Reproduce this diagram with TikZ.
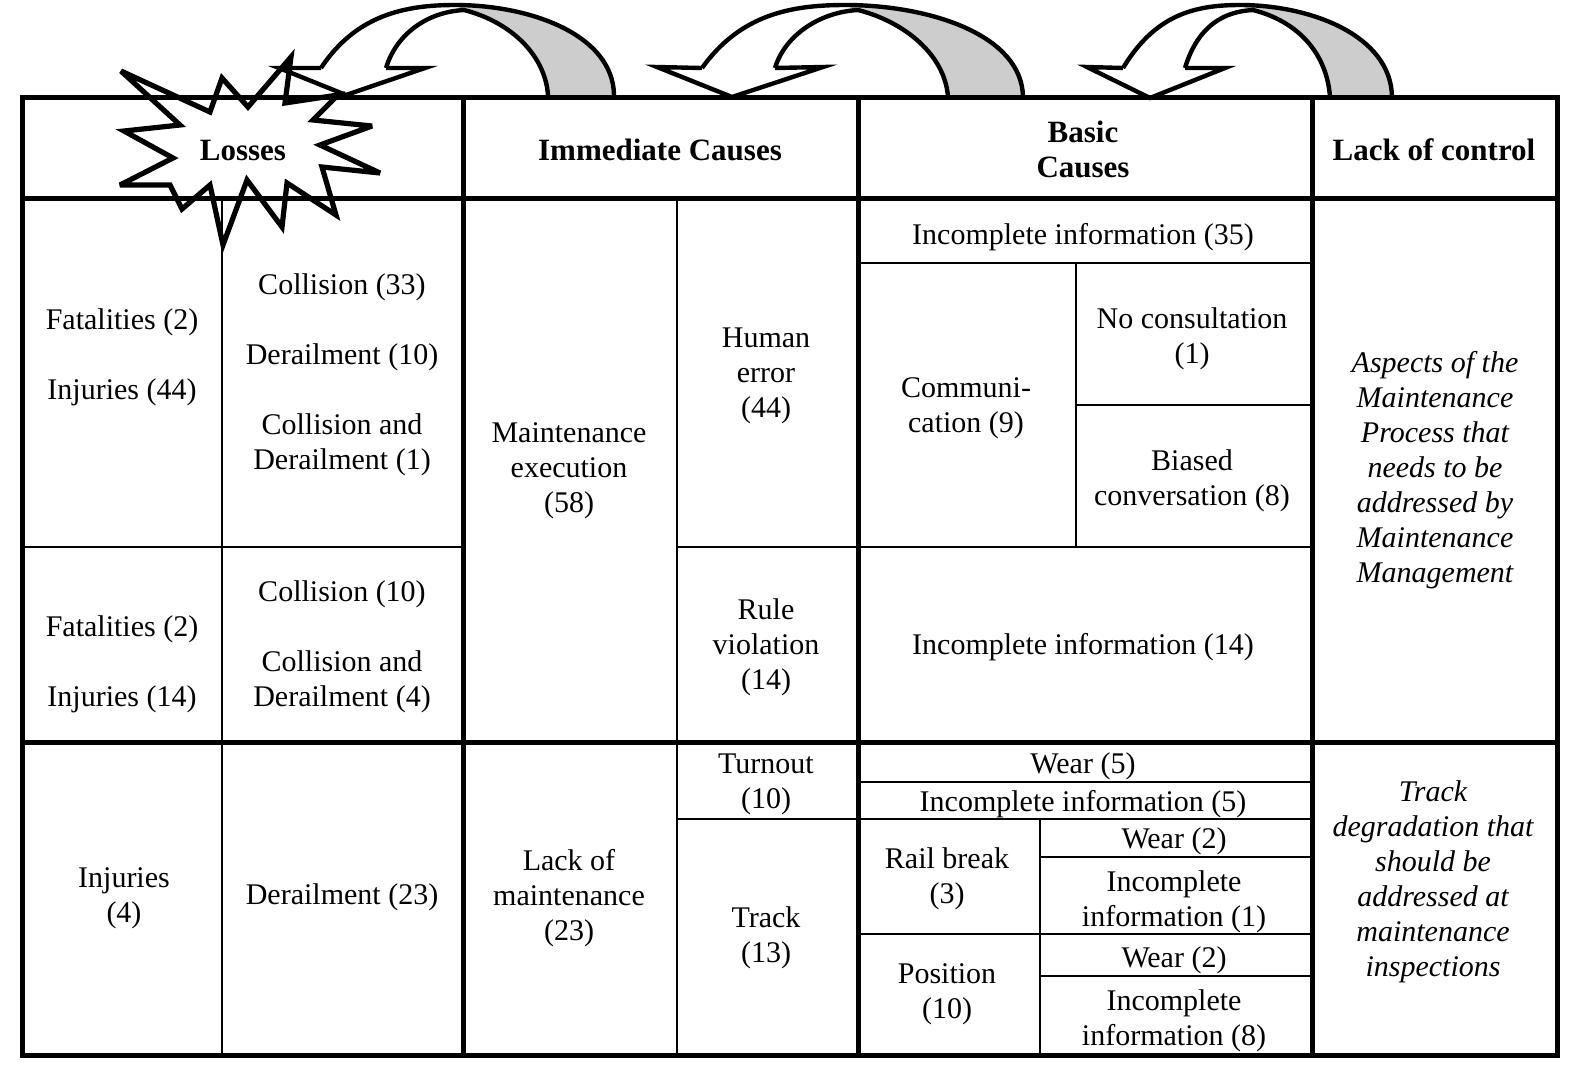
\documentclass[tikz,border=0pt]{standalone}
\usepackage{fontspec}
\setmainfont{Liberation Serif}
\definecolor{arrowgray}{RGB}{205,205,205}
\begin{document}
\begin{tikzpicture}[x=0.5pt,y=-0.5pt,
  thickline/.style={line width=2.5pt},
  thinline/.style={line width=1pt},
  outl/.style={line width=2.2pt, line join=miter},
  starl/.style={line width=2.6pt, line join=miter, miter limit=4},
  txt/.style={inner sep=0pt, align=center, yshift=-2.2pt, font=\fontsize{15}{17.5}\selectfont},
  hdr/.style={inner sep=0pt, align=center, font=\fontsize{15.5}{17.5}\selectfont\bfseries},
  itx/.style={inner sep=0pt, align=center, yshift=-2.3pt, font=\fontsize{15}{17.5}\selectfont\itshape},
]
\useasboundingbox (0,0) rectangle (1571,1067);

% ---- curved arrows ----
% arrow 1
\fill[arrowgray] (455,5) .. controls (531,5) and (613,35) .. (614,95) -- (548,95) .. controls (545,55) and (511,22) .. (464,10) -- cycle;
\draw[outl] (321,68) .. controls (356,15) and (405,5) .. (455,5) .. controls (531,5) and (613,35) .. (614,95);
\draw[outl] (386,68) .. controls (396,35) and (426,12) .. (464,10) .. controls (511,22) and (545,55) .. (548,95);
\draw[outl] (321,68) -- (279,68) -- (346,95) -- (425,68) -- (386,68);
% arrow 2
\fill[arrowgray] (845,5) .. controls (930,5) and (1022,35) .. (1023,97) -- (948,97) .. controls (945,55) and (905,22) .. (858,10) -- cycle;
\draw[outl] (702,68) .. controls (740,15) and (790,5) .. (845,5) .. controls (930,5) and (1022,35) .. (1023,97);
\draw[outl] (775,68) .. controls (785,35) and (820,12) .. (858,10) .. controls (905,22) and (945,55) .. (948,97);
\draw[outl] (702,68) -- (657,67) -- (732,97) -- (823,67) -- (775,68);
% arrow 3
\fill[arrowgray] (1240,5) .. controls (1310,5) and (1391,35) .. (1392,97) -- (1330,97) .. controls (1327,55) and (1300,22) .. (1253,10) -- cycle;
\draw[outl] (1123,68) .. controls (1155,15) and (1194,5) .. (1240,5) .. controls (1310,5) and (1391,35) .. (1392,97);
\draw[outl] (1185,68) .. controls (1195,35) and (1215,12) .. (1253,10) .. controls (1300,22) and (1327,55) .. (1330,97);
\draw[outl] (1123,68) -- (1087,67) -- (1150,98) -- (1225,68) -- (1185,68);

% ---- star ----
\draw[starl] (121,71) -- (210,112) -- (222,78) -- (248,107) -- (291,57) -- (285,103)
  -- (338,95) -- (313,120) -- (372,126) -- (320,145) -- (380,173) -- (322,167)
  -- (336,215) -- (287,183) -- (282,227) -- (247,180) -- (223,245) -- (210,185)
  -- (182,209) -- (170,185) -- (120,185) -- (173,158) -- (124,131) -- (180,125) -- cycle;

% ---- table grid ----
\draw[thickline] (22,97) rectangle (1557,1055);
\draw[thickline] (463,97) -- (463,1055);
\draw[thickline] (858,97) -- (858,1055);
\draw[thickline] (1312,97) -- (1312,1055);
\draw[thickline] (22,198) -- (1557,198);
\draw[thickline] (22,742) -- (1557,742);

\draw[thinline] (222,198) -- (222,1055);
\draw[thinline] (22,547) -- (463,547);
\draw[thinline] (677,198) -- (677,1055);
\draw[thinline] (677,547) -- (858,547);
\draw[thinline] (677,819) -- (858,819);
\draw[thinline] (858,263) -- (1312,263);
\draw[thinline] (1076,263) -- (1076,547);
\draw[thinline] (1076,405) -- (1312,405);
\draw[thinline] (858,547) -- (1312,547);
\draw[thinline] (858,782) -- (1312,782);
\draw[thinline] (858,819) -- (1312,819);
\draw[thinline] (1040,819) -- (1040,1055);
\draw[thinline] (1040,857) -- (1312,857);
\draw[thinline] (858,934) -- (1312,934);
\draw[thinline] (1040,976) -- (1312,976);

% ---- header ----
\node[hdr] (losses) at (243,150) {Losses};
\node[hdr] (imm) at (660,150) {Immediate Causes};
\node[hdr] (basic) at (1083,149) {Basic\\Causes};
\node[hdr] (lack) at (1434,150) {Lack of control};

% ---- maintenance execution block ----
\node[txt] (fat1) at (122,353) {Fatalities (2)\\[17.5pt]Injuries (44)};
\node[txt] (col1) at (342,370) {Collision (33)\\[17.5pt]Derailment (10)\\[17.5pt]Collision and\\Derailment (1)};
\node[txt] (fat2) at (122,660) {Fatalities (2)\\[17.5pt]Injuries (14)};
\node[txt] (col2) at (342,642) {Collision (10)\\[17.5pt]Collision and\\Derailment (4)};
\node[txt] (mexec) at (569,466) {Maintenance\\execution\\(58)};
\node[txt] (herr) at (766,371) {Human\\error\\(44)};
\node[txt] (rviol) at (766,643) {Rule\\violation\\(14)};
\node[txt] (inc35) at (1083,233) {Incomplete information (35)};
\node[txt] (comm) at (966,404) {Communi-\\cation (9)};
\node[txt] (nocons) at (1192,334) {No consultation\\(1)};
\node[txt] (biased) at (1192,476) {Biased\\conversation (8)};
\node[txt] (inc14) at (1083,643) {Incomplete information (14)};
\node[itx] (aspects) at (1435,466) {Aspects of the\\Maintenance\\Process that\\needs to be\\addressed by\\Maintenance\\Management};

% ---- lack of maintenance block ----
\node[txt] (inj4) at (124,894) {Injuries\\(4)};
\node[txt] (der23) at (342,893) {Derailment (23)};
\node[txt] (lom) at (569,894) {Lack of\\maintenance\\(23)};
\node[txt] (turn) at (766,780) {Turnout\\(10)};
\node[txt] (track) at (766,933) {Track\\(13)};
\node[txt] (wear5) at (1083,762) {Wear (5)};
\node[txt] (inc5) at (1083,800) {Incomplete information (5)};
\node[txt] (rail) at (947,874) {Rail break\\(3)};
\node[txt] (wear2a) at (1174,837) {Wear (2)};
\node[txt] (inc1) at (1174,897) {Incomplete\\information (1)};
\node[txt] (pos) at (947,990) {Position\\(10)};
\node[txt] (wear2b) at (1174,956) {Wear (2)};
\node[txt] (inc8) at (1174,1016) {Incomplete\\information (8)};
\node[itx] (trackdeg) at (1433,877) {Track\\degradation that\\should be\\addressed at\\maintenance\\inspections};
\end{tikzpicture}
\end{document}
